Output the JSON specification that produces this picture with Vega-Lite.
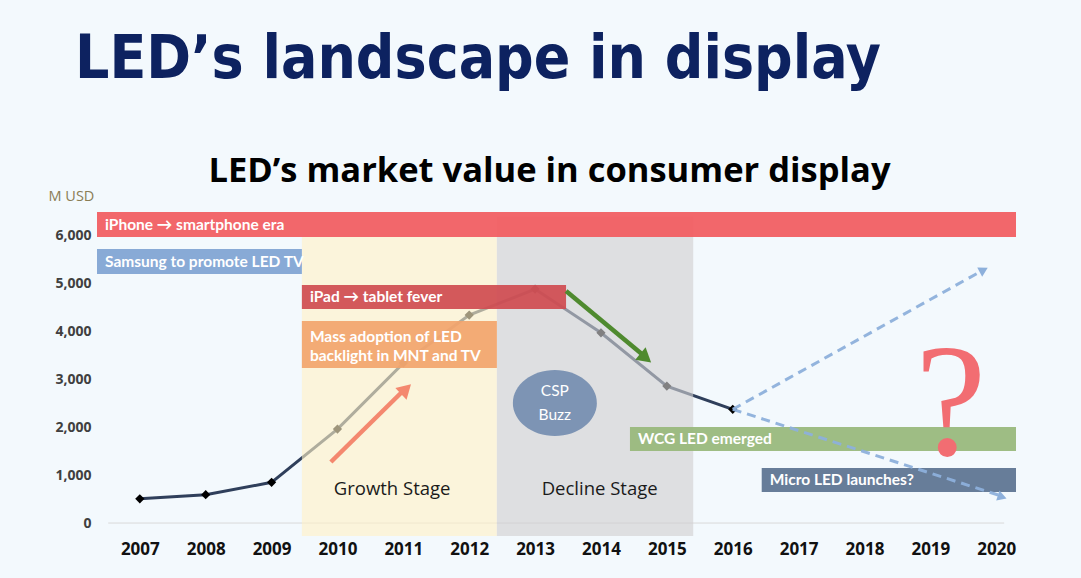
{
  "$schema": "https://vega.github.io/schema/vega-lite/v6.json",
  "width": 919,
  "height": 346,
  "autosize": {"type": "none"},
  "padding": {"left": 97, "top": 190, "right": 65, "bottom": 42},
  "background": "#f3f9fd",
  "config": {"view": {"stroke": null}, "font": "Open Sans"},
  "title": {
    "text": "LED’s landscape in display",
    "anchor": "start",
    "frame": "group",
    "font": "DejaVu Sans Condensed, DejaVu Sans",
    "fontSize": 60,
    "fontWeight": "bold",
    "color": "#0d2260",
    "dx": -22,
    "baseline": "alphabetic",
    "offset": 15
  },
  "datasets": {
    "baseline": [{"x": 2006.52, "x2": 2020.12, "y": 0}],
    "series": [
      {"year": 2007, "value": 505},
      {"year": 2008, "value": 590},
      {"year": 2009, "value": 848},
      {"year": 2010, "value": 1958},
      {"year": 2011, "value": 3333},
      {"year": 2012, "value": 4333},
      {"year": 2013, "value": 4875},
      {"year": 2014, "value": 3965},
      {"year": 2015, "value": 2854},
      {"year": 2016, "value": 2370}
    ],
    "stages": [
      {"stage": "Growth Stage", "x": 2009.46, "x2": 2012.42, "y": -270, "y2": 5961, "lx": 2010.83, "ly": 709},
      {"stage": "Decline Stage", "x": 2012.42, "x2": 2015.4, "y": -270, "y2": 6380, "lx": 2013.98, "ly": 709}
    ],
    "bars": [
      {"label": "iPhone → smartphone era", "x": 2006.35, "x2": 2020.3, "y": 5961, "y2": 6481, "ly": 6221},
      {"label": "Samsung to promote LED TV", "x": 2006.35, "x2": 2009.46, "y": 5190, "y2": 5711, "ly": 5450},
      {"label": "iPad → tablet fever", "x": 2009.46, "x2": 2013.47, "y": 4460, "y2": 4960, "ly": 4710},
      {"label": "Mass adoption of LED\nbacklight in MNT and TV", "x": 2009.46, "x2": 2012.42, "y": 3231, "y2": 4210, "ly": 3877},
      {"label": "WCG LED emerged", "x": 2014.44, "x2": 2020.3, "y": 1501, "y2": 2001, "ly": 1751},
      {"label": "Micro LED launches?", "x": 2016.44, "x2": 2020.3, "y": 647, "y2": 1147, "ly": 897}
    ],
    "bubble": [{"x": 2013.3, "y": 2502, "ly": 2752, "label": "CSP\nBuzz"}],
    "arrows": [
      {"arrow": "growth", "x": 2009.9, "y": 1272, "x2": 2011.01, "y2": 2772},
      {"arrow": "decline", "x": 2013.47, "y": 4835, "x2": 2014.62, "y2": 3523}
    ],
    "heads": [
      {"head": "growth", "x": 2011.04, "y": 2793},
      {"head": "decline", "x": 2014.68, "y": 3439},
      {"head": "up", "x": 2019.81, "y": 5273},
      {"head": "down", "x": 2020.09, "y": 543}
    ],
    "proj": [
      {"path": "up", "year": 2016, "value": 2370},
      {"path": "up", "year": 2019.75, "value": 5231},
      {"path": "down", "year": 2016, "value": 2370},
      {"path": "down", "year": 2020.03, "value": 584}
    ],
    "mark": [{"x": 2019.31, "y": 1418, "t": "?"}]
  },
  "layer": [
    {
      "data": {"name": "baseline"},
      "mark": {"type": "rule", "color": "#d9d9d9", "strokeWidth": 1},
      "encoding": {
        "x": {"field": "x", "type": "quantitative", "scale": {"domain": [2006.35, 2020.3], "nice": false, "zero": false}, "axis": null},
        "x2": {"field": "x2"},
        "y": {"field": "y", "type": "quantitative", "scale": {"domain": [-270, 6940], "nice": false, "zero": false},
          "axis": {"orient": "left", "values": [0, 1000, 2000, 3000, 4000, 5000, 6000], "format": ",.0f", "domain": false, "ticks": false, "grid": false, "labelFont": "Open Sans", "labelFontWeight": "bold", "labelFontSize": 14, "labelColor": "#404040", "labelPadding": 6,
            "title": "M USD", "titleAngle": 0, "titleX": -49, "titleY": 6, "titleAlign": "left", "titleBaseline": "middle", "titleFont": "Open Sans", "titleFontWeight": "normal", "titleFontSize": 14.5, "titleColor": "#8a7d55"}}
      }
    },
    {
      "data": {"name": "series"},
      "mark": {"type": "line", "color": "#2f3f5b", "strokeWidth": 3},
      "encoding": {
        "x": {"field": "year", "type": "quantitative", "scale": {"domain": [2006.35, 2020.3], "nice": false, "zero": false},
          "axis": {"orient": "bottom", "values": [2007, 2008, 2009, 2010, 2011, 2012, 2013, 2014, 2015, 2016, 2017, 2018, 2019, 2020], "format": "d", "domain": false, "ticks": false, "grid": false, "labelFont": "Open Sans", "labelFontWeight": "bold", "labelFontSize": 17, "labelColor": "#111111", "labelPadding": 5, "title": null}},
        "y": {"field": "value", "type": "quantitative", "scale": {"domain": [-270, 6940], "nice": false, "zero": false}, "axis": null}
      }
    },
    {
      "data": {"name": "series"},
      "mark": {"type": "point", "shape": "diamond", "filled": true, "color": "#000000", "size": 85, "opacity": 1},
      "encoding": {
        "x": {"field": "year", "type": "quantitative", "scale": {"domain": [2006.35, 2020.3], "nice": false, "zero": false},
          "axis": {"orient": "top", "labels": false, "ticks": false, "domain": false, "grid": false,
            "title": "LED’s market value in consumer display", "titleFont": "Open Sans", "titleFontSize": 34.5, "titleFontWeight": "bold", "titleColor": "#000000", "titleX": 452, "titleY": -9, "titleAlign": "center", "titleBaseline": "alphabetic"}},
        "y": {"field": "value", "type": "quantitative", "scale": {"domain": [-270, 6940], "nice": false, "zero": false}, "axis": null}
      }
    },
    {
      "data": {"name": "stages"},
      "mark": {"type": "rect", "opacity": 0.62},
      "encoding": {
        "x": {"field": "x", "type": "quantitative", "scale": {"domain": [2006.35, 2020.3], "nice": false, "zero": false}, "axis": null},
        "x2": {"field": "x2"},
        "y": {"field": "y", "type": "quantitative", "scale": {"domain": [-270, 6940], "nice": false, "zero": false}, "axis": null},
        "y2": {"field": "y2"},
        "color": {"field": "stage", "type": "nominal", "scale": {"domain": ["Growth Stage", "Decline Stage"], "range": ["#fff0c6", "#d0ced0"]}, "legend": null}
      }
    },
    {
      "data": {"name": "stages"},
      "mark": {"type": "text", "font": "Open Sans", "fontSize": 18.5, "color": "#1a1a1a", "align": "center", "baseline": "middle"},
      "encoding": {
        "x": {"field": "lx", "type": "quantitative", "scale": {"domain": [2006.35, 2020.3], "nice": false, "zero": false}, "axis": null},
        "y": {"field": "ly", "type": "quantitative", "scale": {"domain": [-270, 6940], "nice": false, "zero": false}, "axis": null},
        "text": {"field": "stage"}
      }
    },
    {
      "data": {"name": "bars"},
      "mark": {"type": "rect", "opacity": 0.92},
      "encoding": {
        "x": {"field": "x", "type": "quantitative", "scale": {"domain": [2006.35, 2020.3], "nice": false, "zero": false}, "axis": null},
        "x2": {"field": "x2"},
        "y": {"field": "y", "type": "quantitative", "scale": {"domain": [-270, 6940], "nice": false, "zero": false}, "axis": null},
        "y2": {"field": "y2"},
        "color": {"field": "label", "type": "nominal", "scale": {
          "domain": ["iPhone → smartphone era", "Samsung to promote LED TV", "iPad → tablet fever", "Mass adoption of LED\nbacklight in MNT and TV", "WCG LED emerged", "Micro LED launches?"],
          "range": ["#f25a5e", "#7fa3d3", "#cf4b50", "#f2a46c", "#97b77a", "#5b7290"]}, "legend": null}
      }
    },
    {
      "data": {"name": "bars"},
      "mark": {"type": "text", "font": "Lato, DejaVu Sans", "fontWeight": "bold", "fontSize": 15.5, "color": "#ffffff", "align": "left", "baseline": "middle", "dx": 8, "lineBreak": "\n", "lineHeight": 19},
      "encoding": {
        "x": {"field": "x", "type": "quantitative", "scale": {"domain": [2006.35, 2020.3], "nice": false, "zero": false}, "axis": null},
        "y": {"field": "ly", "type": "quantitative", "scale": {"domain": [-270, 6940], "nice": false, "zero": false}, "axis": null},
        "text": {"field": "label"}
      }
    },
    {
      "data": {"name": "bubble"},
      "mark": {"type": "point", "shape": "M-1,0A1,0.786,0,1,1,1,0A1,0.786,0,1,1,-1,0Z", "filled": true, "color": "#7d94b4", "size": 7056, "opacity": 1},
      "encoding": {
        "x": {"field": "x", "type": "quantitative", "scale": {"domain": [2006.35, 2020.3], "nice": false, "zero": false}, "axis": null},
        "y": {"field": "y", "type": "quantitative", "scale": {"domain": [-270, 6940], "nice": false, "zero": false}, "axis": null}
      }
    },
    {
      "data": {"name": "bubble"},
      "mark": {"type": "text", "font": "Lato", "fontSize": 15.5, "color": "#ffffff", "align": "center", "baseline": "middle", "lineBreak": "\n", "lineHeight": 24},
      "encoding": {
        "x": {"field": "x", "type": "quantitative", "scale": {"domain": [2006.35, 2020.3], "nice": false, "zero": false}, "axis": null},
        "y": {"field": "ly", "type": "quantitative", "scale": {"domain": [-270, 6940], "nice": false, "zero": false}, "axis": null},
        "text": {"field": "label"}
      }
    },
    {
      "data": {"name": "arrows"},
      "mark": {"type": "rule", "strokeWidth": 4.5},
      "encoding": {
        "x": {"field": "x", "type": "quantitative", "scale": {"domain": [2006.35, 2020.3], "nice": false, "zero": false}, "axis": null},
        "x2": {"field": "x2"},
        "y": {"field": "y", "type": "quantitative", "scale": {"domain": [-270, 6940], "nice": false, "zero": false}, "axis": null},
        "y2": {"field": "y2"},
        "color": {"field": "arrow", "type": "nominal", "scale": {"domain": ["growth", "decline"], "range": ["#f4886f", "#4f8a2f"]}, "legend": null}
      }
    },
    {
      "data": {"name": "heads"},
      "transform": [{"filter": "datum.head == 'growth'"}],
      "mark": {"type": "point", "shape": "triangle-up", "filled": true, "color": "#f4886f", "size": 260, "angle": 46, "opacity": 1},
      "encoding": {
        "x": {"field": "x", "type": "quantitative", "scale": {"domain": [2006.35, 2020.3], "nice": false, "zero": false}, "axis": null},
        "y": {"field": "y", "type": "quantitative", "scale": {"domain": [-270, 6940], "nice": false, "zero": false}, "axis": null}
      }
    },
    {
      "data": {"name": "heads"},
      "transform": [{"filter": "datum.head == 'decline'"}],
      "mark": {"type": "point", "shape": "triangle-up", "filled": true, "color": "#4f8a2f", "size": 260, "angle": 130, "opacity": 1},
      "encoding": {
        "x": {"field": "x", "type": "quantitative", "scale": {"domain": [2006.35, 2020.3], "nice": false, "zero": false}, "axis": null},
        "y": {"field": "y", "type": "quantitative", "scale": {"domain": [-270, 6940], "nice": false, "zero": false}, "axis": null}
      }
    },
    {
      "data": {"name": "proj"},
      "mark": {"type": "line", "color": "#8db0db", "strokeWidth": 3, "strokeDash": [9, 6], "opacity": 0.95},
      "encoding": {
        "x": {"field": "year", "type": "quantitative", "scale": {"domain": [2006.35, 2020.3], "nice": false, "zero": false}, "axis": null},
        "y": {"field": "value", "type": "quantitative", "scale": {"domain": [-270, 6940], "nice": false, "zero": false}, "axis": null},
        "detail": {"field": "path", "type": "nominal"}
      }
    },
    {
      "data": {"name": "heads"},
      "transform": [{"filter": "datum.head == 'up'"}],
      "mark": {"type": "point", "shape": "triangle-up", "filled": true, "color": "#8db0db", "size": 110, "angle": 62, "opacity": 1},
      "encoding": {
        "x": {"field": "x", "type": "quantitative", "scale": {"domain": [2006.35, 2020.3], "nice": false, "zero": false}, "axis": null},
        "y": {"field": "y", "type": "quantitative", "scale": {"domain": [-270, 6940], "nice": false, "zero": false}, "axis": null}
      }
    },
    {
      "data": {"name": "heads"},
      "transform": [{"filter": "datum.head == 'down'"}],
      "mark": {"type": "point", "shape": "triangle-up", "filled": true, "color": "#8db0db", "size": 110, "angle": 108, "opacity": 1},
      "encoding": {
        "x": {"field": "x", "type": "quantitative", "scale": {"domain": [2006.35, 2020.3], "nice": false, "zero": false}, "axis": null},
        "y": {"field": "y", "type": "quantitative", "scale": {"domain": [-270, 6940], "nice": false, "zero": false}, "axis": null}
      }
    },
    {
      "data": {"name": "mark"},
      "mark": {"type": "text", "font": "Liberation Serif", "fontSize": 160, "color": "#f26d72", "align": "center", "baseline": "alphabetic"},
      "encoding": {
        "x": {"field": "x", "type": "quantitative", "scale": {"domain": [2006.35, 2020.3], "nice": false, "zero": false}, "axis": null},
        "y": {"field": "y", "type": "quantitative", "scale": {"domain": [-270, 6940], "nice": false, "zero": false}, "axis": null},
        "text": {"field": "t"}
      }
    }
  ],
  "resolve": {"scale": {"color": "independent"}, "axis": {"x": "independent", "y": "independent"}}
}
